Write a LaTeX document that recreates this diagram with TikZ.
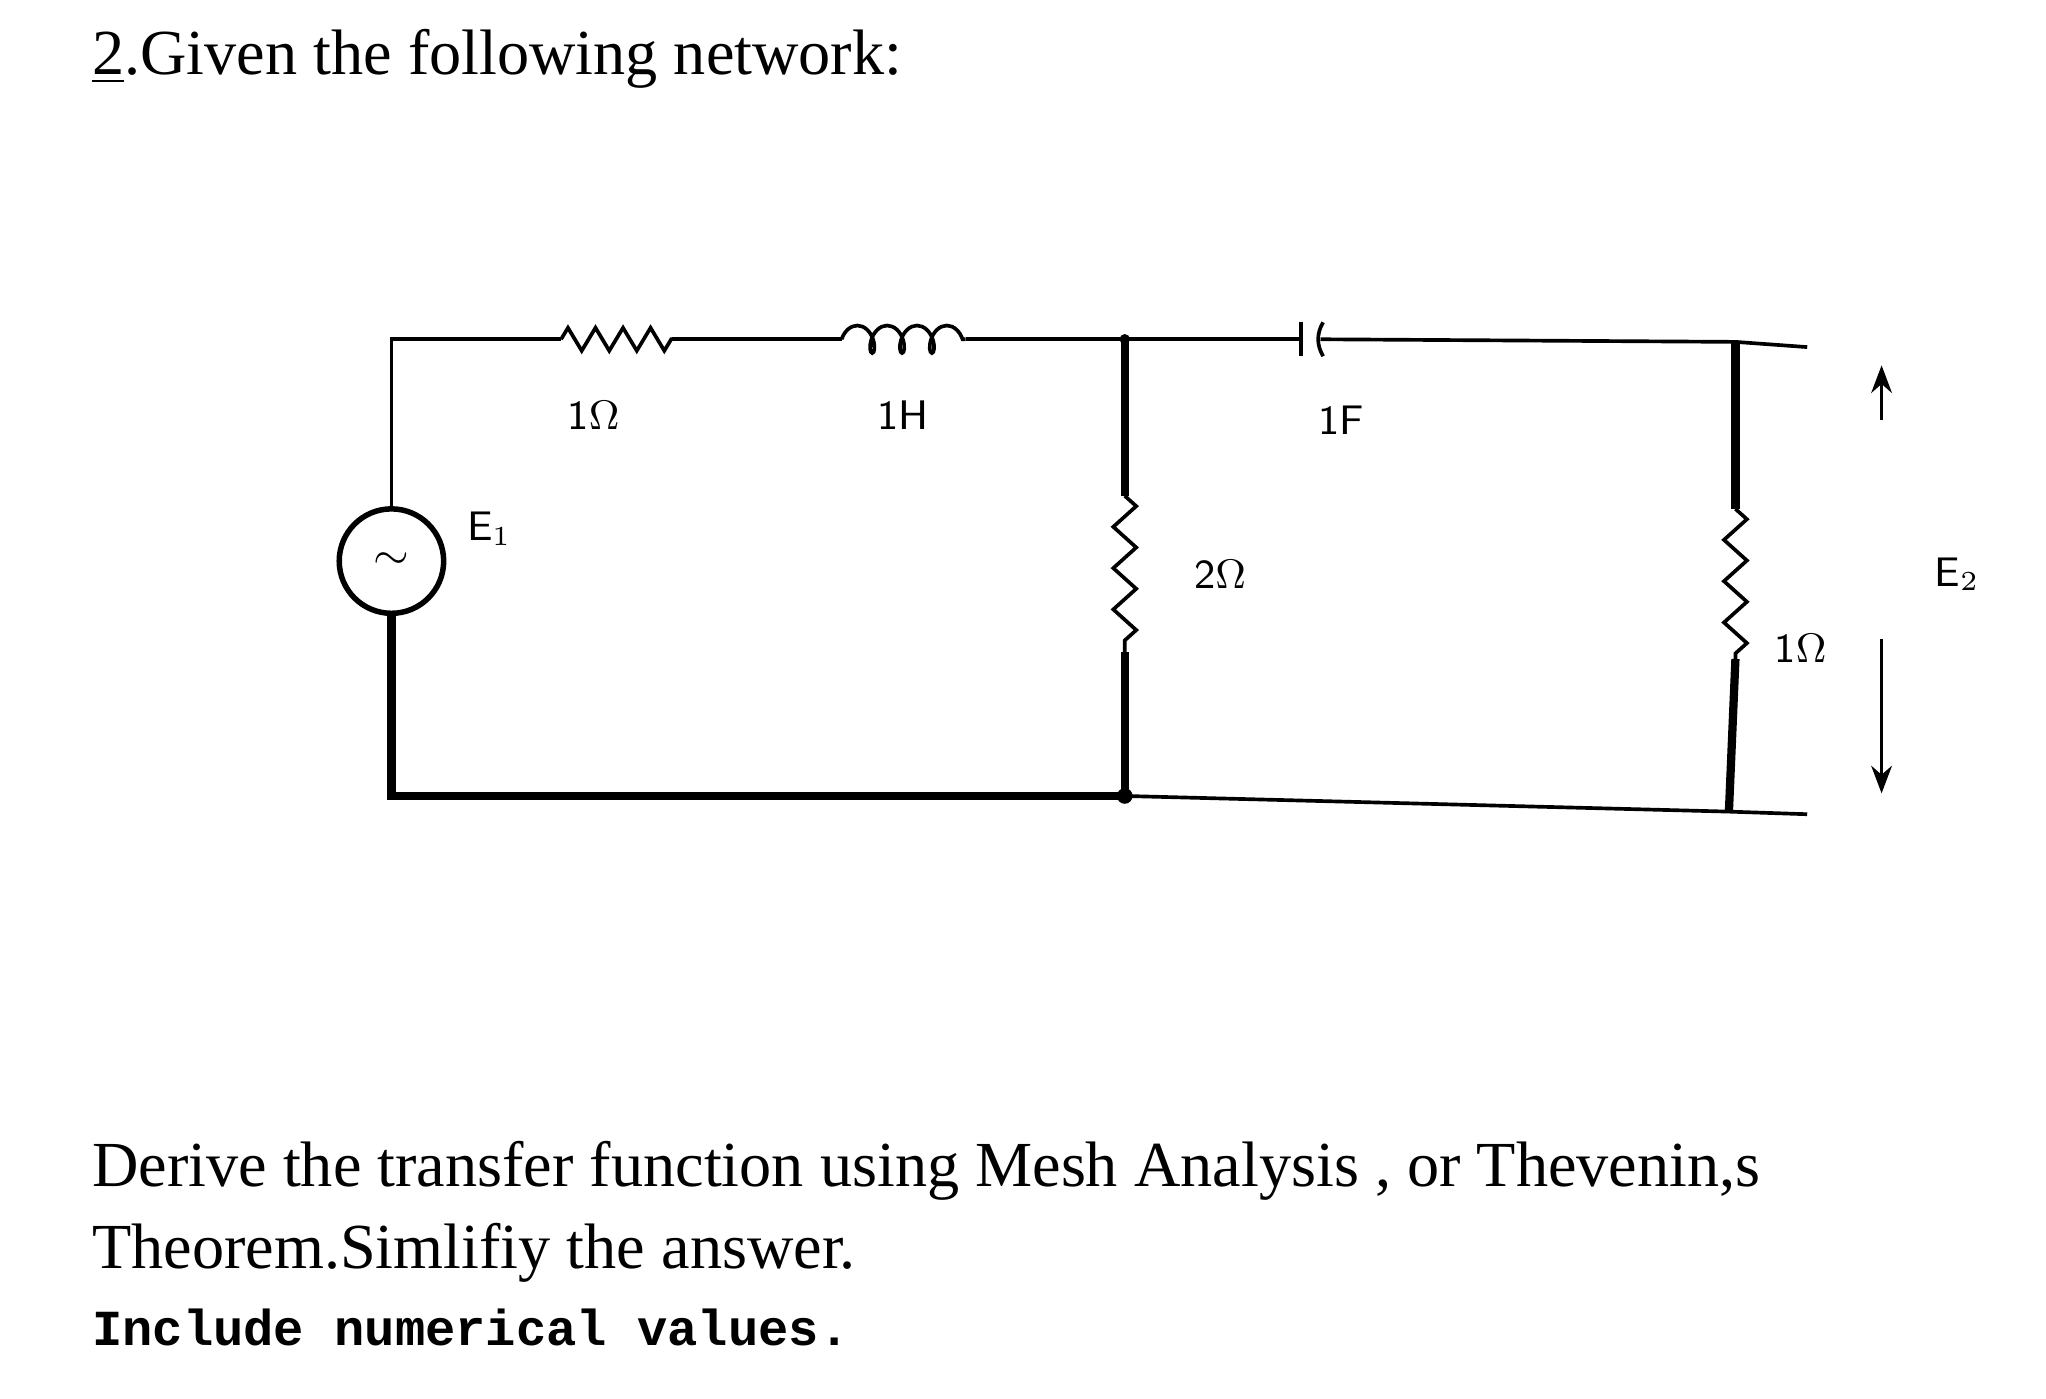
\documentclass[tikz,border=0pt]{standalone}
\usepackage{fontspec}
\setmainfont{Liberation Serif}
\newfontfamily\hand{Liberation Mono}
\usetikzlibrary{decorations.pathmorphing,arrows.meta}
\begin{document}
\begin{tikzpicture}[x=0.01cm,y=-0.01cm,
  wire/.style={line width=0.8pt},
  thick wire/.style={line width=1.8pt},
  res/.style={line width=0.8pt,decorate,decoration={zigzag,amplitude=2.5pt,segment length=6pt}},
  vres/.style={line width=0.8pt,decorate,decoration={zigzag,amplitude=2.5pt,segment length=9pt}},
  ind/.style={line width=0.8pt,decorate,decoration={coil,amplitude=3pt,segment length=6.5pt,aspect=0.6}},
  lbl/.style={font=\sffamily\small},
  txt/.style={font=\fontsize{14}{17}\selectfont,anchor=west,inner sep=0}]
\useasboundingbox (0,0) rectangle (1568,1072);
\node[txt] (title) at (70,45) {\underline{2}.Given the following network:};
\coordinate (tl) at (300,260);
\coordinate (r1a) at (430,260); \coordinate (r1b) at (515,260);
\coordinate (l1a) at (645,260); \coordinate (l1b) at (740,260);
\coordinate (tm) at (862,260);
\coordinate (c1) at (997,260); \coordinate (c2) at (1012,260);
\coordinate (tr) at (1330,262); \coordinate (te) at (1385,266);
\coordinate (bl) at (300,610); \coordinate (bm) at (862,610);
\coordinate (br) at (1325,622); \coordinate (be) at (1385,624);
\node[circle,draw,line width=1.2pt,minimum size=0.8cm,inner sep=0] (src) at (300,430) {$\sim$};
\draw[wire] (src.north) -- (tl) -- (r1a);
\draw[res] (r1a) -- (r1b);
\draw[wire] (r1b) -- (l1a);
\draw[ind] (l1a) -- (l1b);
\draw[wire] (l1b) -- (tm) -- (c1);
\draw[wire] (997,247) -- (997,273);
\draw[wire] (1014,247) to[bend right=30] (1014,273);
\draw[wire] (c2) -- (tr) -- (te);
\draw[thick wire] (src.south) -- (bl) -- (bm);
\draw[wire] (bm) -- (br) -- (be);
\coordinate (m1) at (862,380); \coordinate (m2) at (862,500);
\draw[thick wire] (tm) -- (m1); \draw[vres] (m1) -- (m2); \draw[thick wire] (m2) -- (bm);
\fill (tm) circle (4); \fill (bm) circle (6);
\coordinate (n1) at (1330,390); \coordinate (n2) at (1330,505);
\draw[thick wire] (tr) -- (n1); \draw[vres] (n1) -- (n2); \draw[thick wire] (n2) -- (br);
\node[lbl] (l1) at (455,318) {1$\Omega$};
\node[lbl] (l2) at (692,318) {1H};
\node[lbl] (l3) at (1028,322) {1F};
\node[lbl] (l4) at (935,440) {2$\Omega$};
\node[lbl] (l5) at (1380,497) {1$\Omega$};
\node[lbl] (e1) at (375,405) {E$_1$};
\node[lbl] (e2) at (1500,440) {E$_2$};
\coordinate (a1) at (1442,322); \coordinate (a2) at (1442,280);
\coordinate (a3) at (1442,490); \coordinate (a4) at (1442,608);
\draw[wire,-{Stealth[length=6pt]}] (a1) -- (a2);
\draw[wire,-{Stealth[length=6pt]}] (a3) -- (a4);
\node[txt] (t1) at (70,897) {Derive the transfer function using Mesh Analysis , or Thevenin,s};
\node[txt] (t2) at (70,960) {Theorem.Simlifiy the answer.};
\node[txt,font=\hand\bfseries\fontsize{11}{13}\selectfont] (t3) at (70,1017) {Include numerical values.};
\end{tikzpicture}
\end{document}
